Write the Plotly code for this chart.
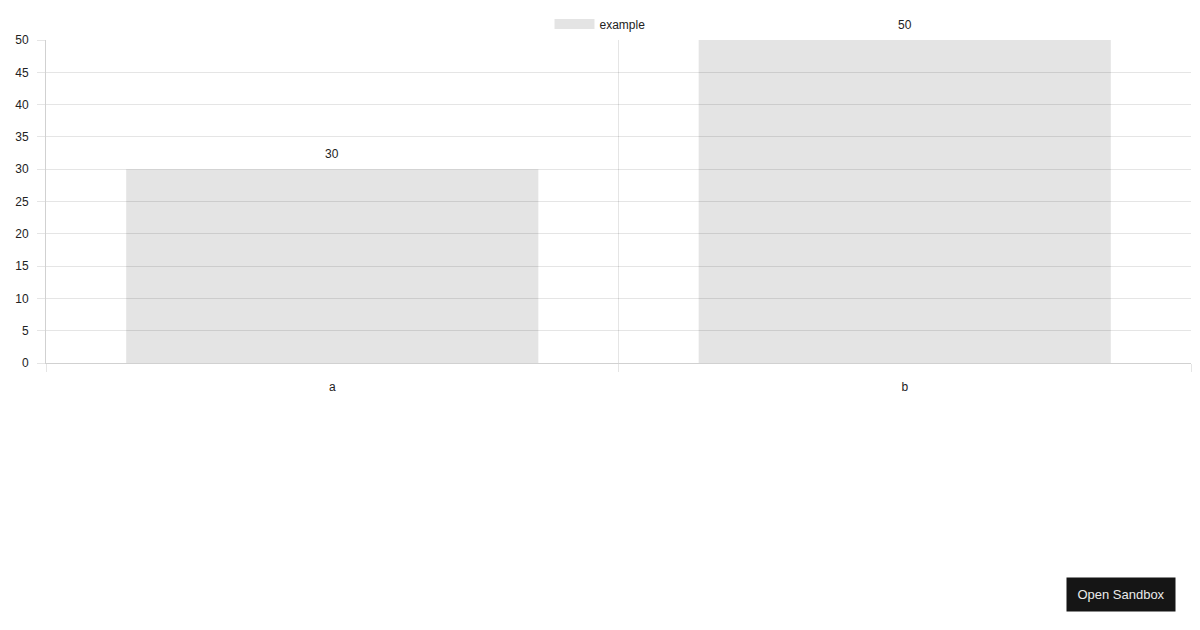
import plotly.graph_objects as go

# dane wykresu
categories = ["a", "b"]
values = [30, 50]
series_name = "example"
y_ticks = [0, 5, 10, 15, 20, 25, 30, 35, 40, 45, 50]

BAR_COLOR = "rgba(0,0,0,0.105)"
GRID_COLOR = "rgba(0,0,0,0.1)"
AXIS_COLOR = "rgba(0,0,0,0.18)"
FONT = "Liberation Sans, Arial, Helvetica, sans-serif"

fig = go.Figure()

fig.add_trace(go.Bar(
  x=categories, y=values, marker=dict(color=BAR_COLOR, line=dict(width=0)),
  showlegend=False, hoverinfo="x+y"
))

# tylko wpis legendy (szeroki prostokąt jak w chart.js)
fig.add_trace(go.Scatter(
  x=[None], y=[None], mode="lines", name=series_name,
  line=dict(color=BAR_COLOR, width=12)
))

# etykiety nad słupkami
for c, v in zip(categories, values):
  fig.add_annotation(x=c, y=v, text=str(v), showarrow=False, yshift=15,
                     font=dict(size=12, color="#222", family=FONT))

# przycisk "Open Sandbox"
fig.add_annotation(
  xref="paper", yref="paper", x=0.9389, y=-0.7167, xanchor="center", yanchor="middle",
  text="Open Sandbox", showarrow=False, bgcolor="#151515",
  width=100, height=25, borderpad=4,
  font=dict(size=13, color="#eaeaea", family=FONT)
)

# strona ma 8px marginesu body, więc wszystko przesunięte o 8px
fig.update_layout(
  width=1200, height=630,
  margin=dict(l=38, r=17, t=32, b=275, autoexpand=False),
  paper_bgcolor="white", plot_bgcolor="white",
  bargap=0.28,
  font=dict(family=FONT, size=12, color="#444"),
  legend=dict(orientation="h", xref="container", yref="container",
              x=592 / 1200, xanchor="center", y=1 - 16 / 630, yanchor="middle",
              font=dict(size=12, color="#222"), itemwidth=40),
)

fig.update_xaxes(
  type="category", tickson="boundaries", showgrid=True, gridcolor=GRID_COLOR,
  ticks="outside", ticklen=8, tickcolor=GRID_COLOR, ticklabelstandoff=13,
  showline=True, linecolor=AXIS_COLOR, zeroline=False,
  tickfont=dict(size=12, color="#222"), fixedrange=True
)
fig.update_yaxes(
  range=[0, 50], tickvals=y_ticks, showgrid=True, gridcolor=GRID_COLOR,
  ticks="outside", ticklen=8, tickcolor=GRID_COLOR, ticklabelstandoff=6,
  showline=True, linecolor=AXIS_COLOR, zeroline=False,
  tickfont=dict(size=12, color="#222"), fixedrange=True
)

fig.write_html("out.html")
